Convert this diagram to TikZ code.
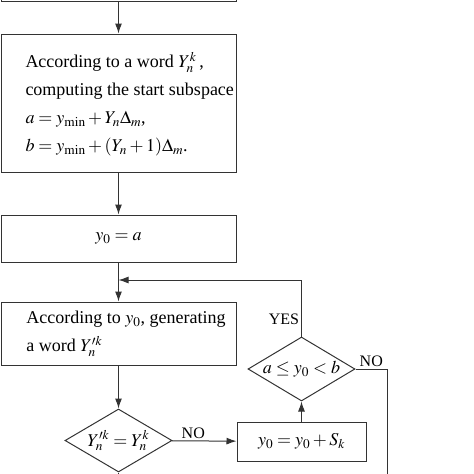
\documentclass[tikz,border=0pt]{standalone}
\usepackage{mathptmx}
\usepackage{fontspec}
\setmainfont{Liberation Serif}
\usepackage{tikz}
\usetikzlibrary{shapes.geometric,arrows.meta}
\colorlet{linec}{black!80}

\begin{document}
\begin{tikzpicture}[x=1pt, y=-1pt, line width=1pt,
    font=\fontsize{18}{28}\selectfont,
    proc/.style={draw=linec, rectangle, inner sep=0pt},
    test/.style={draw=linec, diamond, aspect=1.7, inner sep=-2pt},
    flow/.style={draw=linec, -{Latex[length=10pt,width=7pt]}},
    wire/.style={draw=linec},
    lbl/.style={font=\fontsize{16}{18}\selectfont, inner sep=2pt}]
  \useasboundingbox (0,0) rectangle (474,474);
  \clip (0,0) rectangle (474,474);

  % boxes of the main column
  \node[proc, minimum width=235, minimum height=60] (prev) at (118.5,-29) {};
  \node[proc, minimum width=235, minimum height=138] (init) at (118.5,103) {};
  \node[anchor=west, align=left, inner sep=0pt] (initText) at (25,104)
    {According to a word $Y_n^k$\,,\\
     computing the start subspace\\
     $a=y_{\min}+Y_n\Delta_m$,\\
     $b=y_{\min}+(Y_n+1)\Delta_m$.};
  \node[proc, minimum width=235, minimum height=47] (start) at (118.5,238.5) {$y_0=a$};
  \coordinate (join) at (118.5,280);
  \node[proc, minimum width=235, minimum height=63] (gen) at (118.5,333.5) {};
  \node[anchor=west, align=left, inner sep=0pt] (genText) at (26,334)
    {According to $y_0$, generating\\ a word $Y_n^{\prime k}$};
  \node[test, minimum width=107, minimum height=63] (cmp) at (118.5,440.5) {$Y_n^{\prime k}=Y_n^k$};

  % loop on the right
  \node[proc, minimum width=129, minimum height=39] (incr) at (301.5,441.5) {$y_0=y_0+S_k$};
  \node[test, minimum width=107, minimum height=64] (range) at (301.5,369) {$a\leq y_0<b$};
  \coordinate (drop) at (387,490);
  \coordinate (exit) at (118.5,490);

  \draw[flow] (prev) -- (init);
  \draw[flow] (init) -- (start);
  \draw[flow] (start) -- (gen);
  \draw[flow] (gen) -- (cmp);
  \draw[wire] (cmp) -- (exit);
  \draw[flow] (cmp) -- node[lbl, pos=0.33, above] (no1) {NO} (incr);
  \draw[flow] (incr) -- (range);
  \draw[flow] (range.north) |- node[lbl, pos=0.15, anchor=east] (yes) {YES} (join);
  \draw[wire] (range.east) -| node[lbl, pos=0.25, above] (no2) {NO} (drop);
\end{tikzpicture}
\end{document}
